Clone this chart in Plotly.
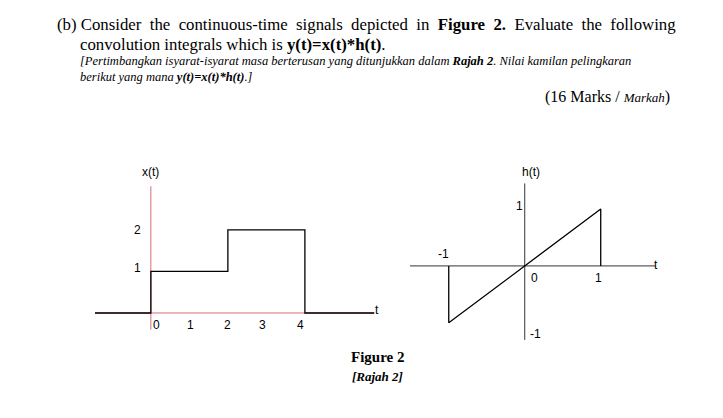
import plotly.graph_objects as go

W, H = 707, 402
OFF = 8
# x(t) signal
xt_t = [-1.45, 0, 0, 2, 2, 4, 4, 5.8]
xt_v = [0, 0, 1, 1, 2, 2, 0, 0]
# h(t) signal
ht_t = [-1, -1, 1, 1]
ht_v = [0, -1, 1, 0]
axis_col = "#dc6a78"

def px(x): return (x - OFF) / W
def py(y): return 1 - (y - OFF) / H

fig = go.Figure()
fig.add_trace(go.Scatter(x=[-1.45, 5.8], y=[0, 0], mode="lines", line=dict(color=axis_col, width=1), xaxis="x", yaxis="y"))
fig.add_trace(go.Scatter(x=[0, 0], y=[-0.4, 3.05], mode="lines", line=dict(color=axis_col, width=1), xaxis="x", yaxis="y"))
fig.add_trace(go.Scatter(x=xt_t, y=xt_v, mode="lines", line=dict(color="black", width=1.3), xaxis="x", yaxis="y"))
fig.add_trace(go.Scatter(x=[-1.51, 1.72], y=[0, 0], mode="lines", line=dict(color="black", width=0.8), xaxis="x2", yaxis="y2"))
fig.add_trace(go.Scatter(x=[0, 0], y=[-1.3, 1.45], mode="lines", line=dict(color="black", width=0.8), xaxis="x2", yaxis="y2"))
fig.add_trace(go.Scatter(x=ht_t, y=ht_v, mode="lines", line=dict(color="black", width=1.3), xaxis="x2", yaxis="y2"))

ax = dict(visible=False, fixedrange=True)
fig.update_layout(
    width=W, height=H, margin=dict(l=0, r=0, t=0, b=0), showlegend=False,
    plot_bgcolor="white", paper_bgcolor="white",
    xaxis=dict(domain=[px(95), px(375)], range=[-1.45, 5.82], anchor="y", **ax),
    yaxis=dict(domain=[py(335), py(185)], range=[-0.53, 3.08], anchor="x", **ax),
    xaxis2=dict(domain=[px(410), px(660)], range=[-1.51, 1.78], anchor="y2", **ax),
    yaxis2=dict(domain=[py(345), py(180)], range=[-1.39, 1.51], anchor="x2", **ax),
)

serif = "Liberation Serif"
sans = "Liberation Sans"
def txt(x, y, s, size=12, fam=sans, xa="center"):
    fig.add_annotation(x=px(x), y=py(y), xref="paper", yref="paper", text=s, showarrow=False,
                       xanchor=xa, yanchor="middle", font=dict(family=fam, size=size, color="black"))

txt(55, 25, "(b) Consider&#160;&#160;the&#160;&#160;continuous-time&#160;&#160;signals&#160;&#160;depicted&#160;&#160;in&#160;&#160;<b>Figure&#160;&#160;2.</b>&#160;&#160;Evaluate&#160;&#160;the&#160;&#160;following", 16.8, serif, "left")
txt(78, 44, "convolution integrals which is <b>y(t)=x(t)*h(t)</b>.", 16.8, serif, "left")
txt(78, 61, "<i>[Pertimbangkan isyarat-isyarat masa berterusan yang ditunjukkan dalam <b>Rajah 2</b>. Nilai kamilan pelingkaran</i>", 12.5, serif, "left")
txt(78, 77, "<i>berikut yang mana <b>y(t)=x(t)*h(t)</b>.]</i>", 12.5, serif, "left")
txt(672, 97, "(16 Marks / <i><span style='font-size:13px'>Markah</span></i>)", 16, serif, "right")
txt(377, 357, "<b>Figure 2</b>", 15, serif)
txt(377, 376, "<b><i>[Rajah 2]</i></b>", 13, serif)

txt(150, 172, "x(t)")
txt(137, 230, "2")
txt(137, 268, "1")
for xx, s in [(156, "0"), (190, "1"), (228, "2"), (262, "3"), (300, "4")]:
    txt(xx, 325, s)
txt(377, 310, "t")
txt(531, 172, "h(t)")
txt(519, 206, "1")
txt(443, 254, "-1")
txt(534, 278, "0")
txt(598, 278, "1")
txt(535, 334, "-1")
txt(656, 265, "t")

fig.write_html("out.html")
